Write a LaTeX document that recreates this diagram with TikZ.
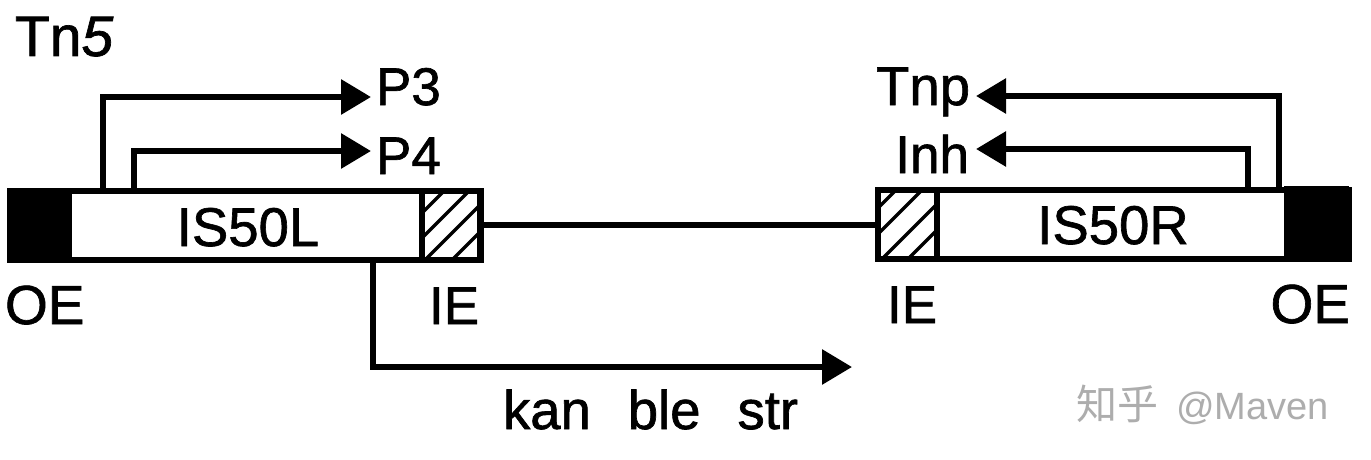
\documentclass[tikz,border=0pt]{standalone}
\usepackage{fontspec}
\setmainfont{Liberation Sans}[RawFeature={embolden=1.2},ItalicFeatures={RawFeature={embolden=1.2}}]
\newfontfamily\cjkwm{Noto Sans CJK SC}
\newfontfamily\wmfont{Liberation Sans}
\usetikzlibrary{arrows.meta}
\tikzset{
  txt/.style={inner sep=0pt,outer sep=0pt,text=black,font=\fontsize{54.5}{54.5}\selectfont},
  band/.style={draw=black,line width=6pt,fill=white,minimum height=69pt,inner sep=0pt,outer sep=0pt,anchor=north west},
  endblock/.style={fill=black,draw=none,inner sep=0pt,outer sep=0pt,anchor=north west},
  hatchbox/.style={draw=black,line width=6pt,fill=none,minimum height=69pt,inner sep=0pt,outer sep=0pt,anchor=north west},
  hatchline/.style={draw=black,line width=3.2pt},
  conn/.style={draw=black,line width=6pt,line join=miter},
  arr/.style={conn,-{Triangle[length=30pt,width=34pt]}}
}
\begin{document}
\begin{tikzpicture}[x=1pt,y=-1pt]
\useasboundingbox[fill=white] (0,0) rectangle (1371,460);
% left element
\node[band,minimum width=470pt] (L) at (10,191) {};
\node[endblock,minimum width=65pt,minimum height=75pt] (LOE) at (7,188) {};
\begin{scope}
\clip (422,191) rectangle (481,260);
\foreach \s in {635,660,685,712}
  \draw[hatchline] (410,\s-410) -- (490,\s-490);
\end{scope}
\node[hatchbox,minimum width=59pt] (LIE) at (422,191) {};
% right element
\node[band,minimum width=471pt] (R) at (878,190) {};
\node[endblock,minimum width=65pt,minimum height=75pt] (ROE) at (1284,186) {};
\begin{scope}
\clip (878,190) rectangle (937,259);
\foreach \s in {1086,1112,1141,1167}
  \draw[hatchline] (870,\s-870) -- (945,\s-945);
\end{scope}
\node[hatchbox,minimum width=59pt] (RIE) at (878,190) {};
% labels
\node[txt,anchor=base west,font=\fontsize{57}{57}\selectfont] (tn) at (15,56) {Tn\textit{5}};
\node[txt,anchor=base west,font=\fontsize{53}{53}\selectfont] (p3) at (376,105) {P3};
\node[txt,anchor=base west,font=\fontsize{53}{53}\selectfont] (p4) at (376,174) {P4};
\node[txt,anchor=base east] (tnp) at (970,105) {Tnp};
\node[txt,anchor=base east,font=\fontsize{53}{53}\selectfont] (inh) at (969,173) {Inh};
\node[txt,anchor=base] (isl) at (248,246) {IS50L};
\node[txt,anchor=base] (isr) at (1113,244) {IS50R};
\node[txt,anchor=base west,font=\fontsize{55}{55}\selectfont] (oel) at (5,324) {OE};
\node[txt,anchor=base west,font=\fontsize{53}{53}\selectfont] (iel) at (429,324) {IE};
\node[txt,anchor=base west,font=\fontsize{53}{53}\selectfont] (ier) at (887,323) {IE};
\node[txt,anchor=base east,font=\fontsize{55}{55}\selectfont] (oer) at (1350,323) {OE};
\node[txt,anchor=base west] (kan) at (503,429) {kan\hspace{37pt}ble\hspace{37pt}str};
\node[inner sep=0pt,anchor=base west,text=black!32,font=\fontsize{41}{41}\selectfont] (wm) at (1076,419) {{\cjkwm 知乎}\hspace{18pt}{\wmfont\fontsize{38}{38}\selectfont @Maven}};
% connector end points
\coordinate (p3s) at (103,190);
\coordinate (p3k) at (103,97);
\coordinate (p3e) at (371,97);
\coordinate (p4s) at (134,190);
\coordinate (p4k) at (134,151);
\coordinate (p4e) at (371,151);
\coordinate (tnps) at (1279,188);
\coordinate (tnpk) at (1279,96);
\coordinate (tnpe) at (976,96);
\coordinate (inhs) at (1248,188);
\coordinate (inhk) at (1248,149);
\coordinate (inhe) at (976,149);
\coordinate (kans) at (373,262);
\coordinate (kank) at (373,367);
\coordinate (kane) at (852,367);
\coordinate (ml) at (481,225);
\coordinate (mr) at (878,225);
% connectors
\draw[arr] (p3s) -- (p3k) -- (p3e);
\draw[arr] (p4s) -- (p4k) -- (p4e);
\draw[arr] (tnps) -- (tnpk) -- (tnpe);
\draw[arr] (inhs) -- (inhk) -- (inhe);
\draw[arr] (kans) -- (kank) -- (kane);
\draw[conn] (ml) -- (mr);
\end{tikzpicture}
\end{document}
